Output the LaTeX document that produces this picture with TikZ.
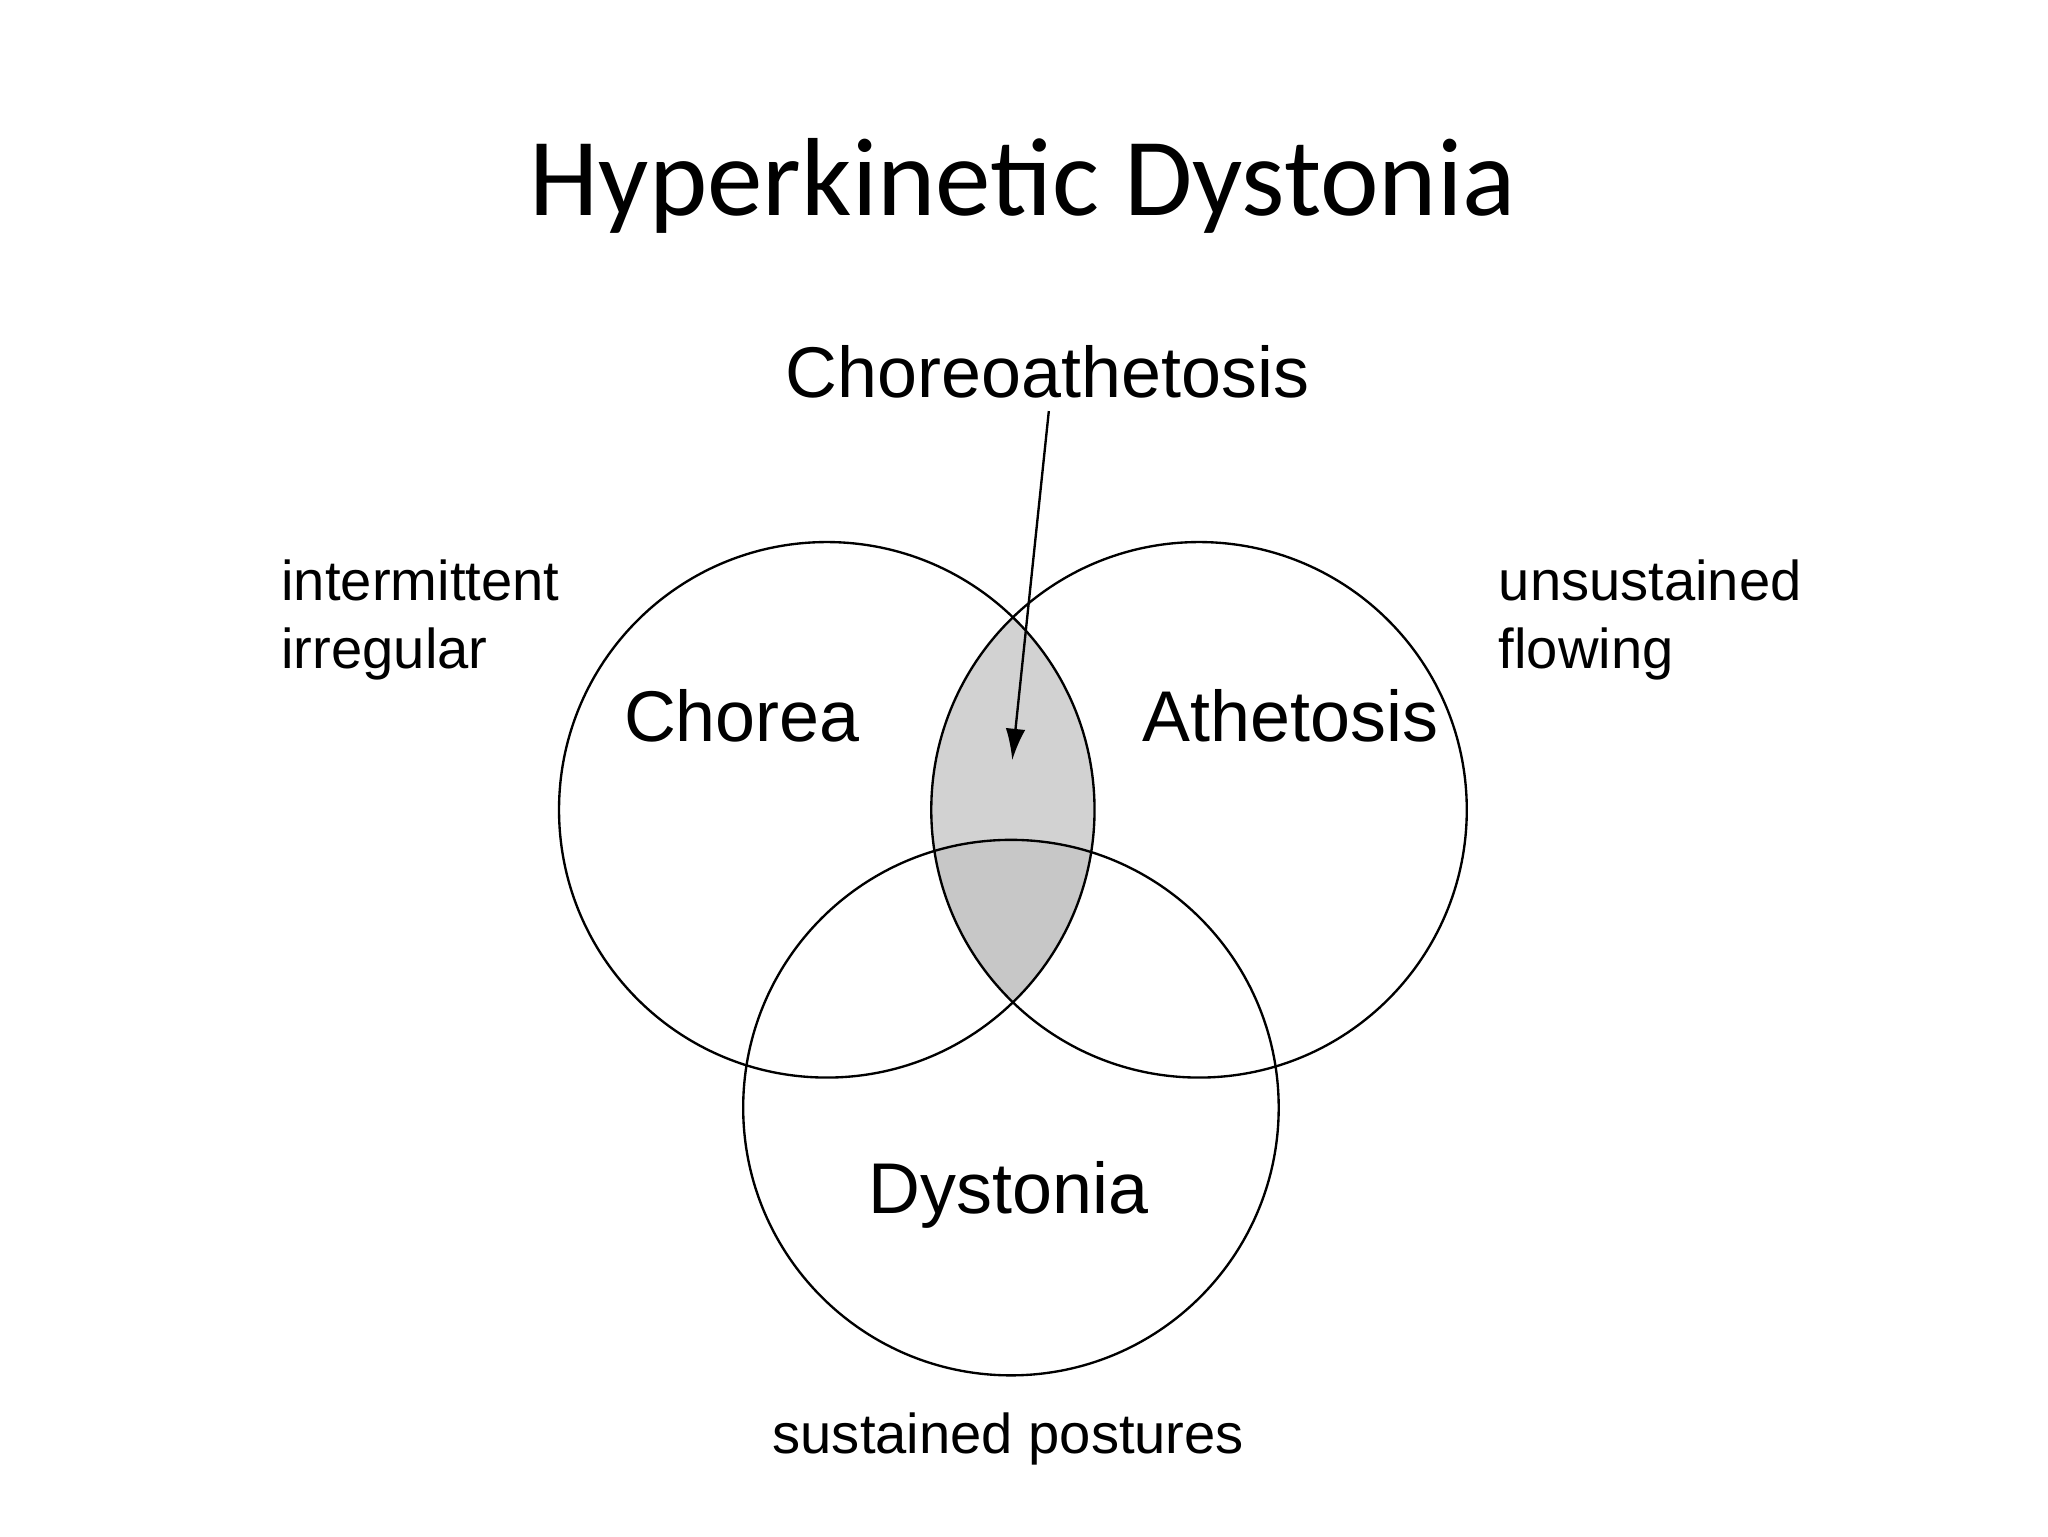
\documentclass[tikz,border=0pt]{standalone}
\usepackage{fontspec}
\usetikzlibrary{arrows.meta}
\setmainfont{Liberation Sans}
\newfontfamily\titlefont{Carlito}
\begin{document}
\begin{tikzpicture}[x=1pt,y=-1pt,
  circ/.style={draw=black,line width=1.8pt},
  big/.style={font=\fontsize{55}{62}\selectfont},
  small/.style={font=\fontsize{43}{52}\selectfont,align=left}]
\useasboundingbox[fill=white] (0,0) rectangle (1568,1176);
\node[font=\titlefont\fontsize{85}{96}\selectfont] (title) at (783,142) {Hyperkinetic Dystonia};
\begin{scope}
  \clip (633,620) circle (205);
  \fill[gray!35] (918,620) circle (205);
\end{scope}
\begin{scope}
  \clip (633,620) circle (205);
  \clip (918,620) circle (205);
  \fill[gray!44] (774,848) circle (205);
\end{scope}
\draw[circ] (633,620) circle (205);
\draw[circ] (918,620) circle (205);
\draw[circ] (774,848) circle (205);
\node[big] (cho) at (802,285) {Choreoathetosis};
\coordinate (tip) at (775,582);
\draw[line width=1.8pt,-{Latex[length=24pt,width=15pt]}] (cho.south) ++(1,6) -- (tip);
\node[big] (ch) at (568,548) {Chorea};
\node[big] (ath) at (988,548) {Athetosis};
\node[big] (dys) at (772,915) {Dystonia};
\node[small,anchor=north west] (l) at (212,425) {intermittent\\irregular};
\node[small,anchor=north west] (r) at (1144,425) {unsustained\\flowing};
\node[small] (b) at (772,1102) {sustained postures};
\end{tikzpicture}
\end{document}
